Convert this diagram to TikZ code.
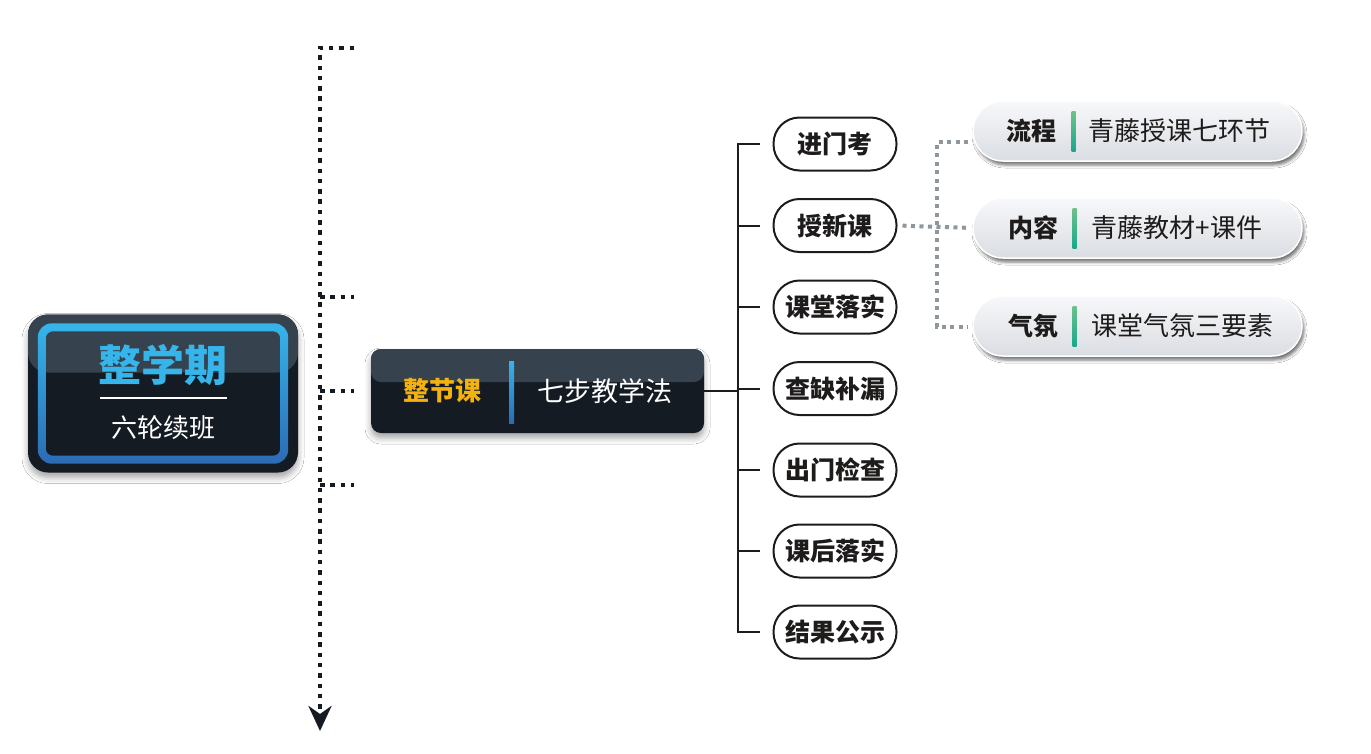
\documentclass[tikz,border=0pt]{standalone}
\usepackage{fontspec}
\setmainfont{Noto Sans CJK SC}
\usetikzlibrary{arrows.meta,shadows.blur}
\definecolor{darkbg}{HTML}{141B23}
\definecolor{topgray}{HTML}{36424D}
\definecolor{skyblue}{HTML}{36B5EA}
\definecolor{deepblue}{HTML}{2C6BB5}
\definecolor{gold}{HTML}{F4B20F}
\definecolor{ink}{HTML}{1E1B1B}
\definecolor{dotgray}{HTML}{8E979C}
\definecolor{mint}{HTML}{6DC28B}
\definecolor{seagreen}{HTML}{17A88C}
\definecolor{boxtop}{HTML}{F7F8FA}
\definecolor{boxbot}{HTML}{DADDE2}
\newcommand\fsz[1]{\fontsize{#1}{#1}\selectfont}
\begin{document}
\begin{tikzpicture}[x=1pt,y=-1pt,
    darkbox/.style={fill=darkbg,inner sep=0pt,
      blur shadow={shadow xshift=0pt,shadow yshift=-5pt,shadow blur radius=6pt,shadow opacity=35},
      path picture={\fill[topgray] (path picture bounding box.north west) rectangle ([yshift=-#1]path picture bounding box.north east);}},
    txt/.style={inner sep=0pt},
    pill/.style={draw=ink,line width=2pt,fill=white,rounded corners=26pt,minimum width=123pt,
      minimum height=53pt,inner sep=0pt,text=ink,font=\bfseries\fsz{25}},
    infobox/.style={rounded corners=30pt,minimum width=329pt,minimum height=60pt,
      top color=boxtop,bottom color=boxbot,draw=white,line width=1.5pt,
      blur shadow={shadow xshift=2pt,shadow yshift=-4pt,shadow blur radius=3pt,shadow opacity=55}},
    tree/.style={draw=ink,line width=2pt},
    mainline/.style={draw=darkbg,line width=4pt,dash pattern=on 4.5pt off 5.8pt},
    grayline/.style={draw=dotgray,line width=4pt,dash pattern=on 4pt off 4.5pt}]
  \fill[white] (0,0) rectangle (1371,753);
  \useasboundingbox (0,0) rectangle (1371,753);

  \node[darkbox=58pt,rounded corners=20pt,minimum width=270pt,minimum height=158pt] (term) at (163,393.5) {};
  \shade[top color=skyblue,bottom color=deepblue,even odd rule,rounded corners=14pt]
    ([shift={(10pt,-9pt)}]term.north west) rectangle ([shift={(-10pt,9pt)}]term.south east)
    [rounded corners=7pt]
    ([shift={(18pt,-17pt)}]term.north west) rectangle ([shift={(-18pt,17pt)}]term.south east);
  \node[txt,font=\bfseries\fsz{43},text=skyblue] (title) at (163,365) {整学期};
  \draw[white,line width=2pt] (100,398) -- (227,398);
  \node[txt,font=\fsz{26},text=white] (sub) at (163,428) {六轮续班};

  \coordinate (top) at (320,48);
  \coordinate (tip) at (320,731);
  \coordinate (b1) at (354,48);
  \coordinate (b2) at (354,297);
  \coordinate (b3) at (354,391);
  \coordinate (b4) at (354,485);
  \draw[mainline,-{Stealth[length=25pt,width=23pt,inset=8pt]}] (b1) -- (top) -- (tip);
  \draw[mainline] (top |- b2) -- (b2);
  \draw[mainline] (top |- b3) -- (b3);
  \draw[mainline] (top |- b4) -- (b4);

  \node[darkbox=33pt,rounded corners=10pt,minimum width=333pt,minimum height=84pt] (lesson) at (537.5,391) {};
  \shade[top color=skyblue,bottom color=deepblue] (509,361) rectangle (514,423);
  \node[txt,font=\bfseries\fsz{26},text=gold] (lessona) at (442,391) {整节课};
  \node[txt,font=\fsz{27},text=white] (lessonb) at (605,391) {七步教学法};

  \coordinate (sp) at (738,391);
  \node[pill] (p1) at (835,144) {进门考};
  \node[pill] (p2) at (835,225.5) {授新课};
  \node[pill] (p3) at (835,307) {课堂落实};
  \node[pill] (p4) at (835,388.5) {查缺补漏};
  \node[pill] (p5) at (835,470) {出门检查};
  \node[pill] (p6) at (835,551) {课后落实};
  \node[pill] (p7) at (835,632) {结果公示};
  \draw[tree] (lesson.east) -- (sp);
  \draw[tree,line cap=rect] (sp |- p1) -- (sp |- p7);
  \draw[tree,shorten >=13pt] (sp |- p1) -- (p1.west);
  \draw[tree,shorten >=13pt] (sp |- p2) -- (p2.west);
  \draw[tree,shorten >=13pt] (sp |- p3) -- (p3.west);
  \draw[tree,shorten >=13pt] (sp |- p4) -- (p4.west);
  \draw[tree,shorten >=13pt] (sp |- p5) -- (p5.west);
  \draw[tree,shorten >=13pt] (sp |- p6) -- (p6.west);
  \draw[tree,shorten >=13pt] (sp |- p7) -- (p7.west);

  \node[infobox] (r1) at (1137.5,131) {};
  \node[infobox] (r2) at (1137.5,228) {};
  \node[infobox] (r3) at (1137.5,326) {};
  \coordinate (gtop) at (937,142);
  \coordinate (gbot) at (937,327);
  \draw[grayline,shorten <=4pt,shorten >=4pt] (r1.west |- gtop) -- (gtop) -- (gbot) -- (r3.west |- gbot);
  \draw[grayline,shorten <=5pt,shorten >=4pt] (p2.east) -- (r2.west);

  \node[txt,font=\bfseries\fsz{25},text=ink] (r1a) at ([xshift=-106pt]r1.center) {流程};
  \shade[top color=mint,bottom color=seagreen] ([shift={(-66pt,20pt)}]r1.center) rectangle ([shift={(-62pt,-20pt)}]r1.center);
  \node[txt,font=\fsz{26},text=ink,anchor=west] (r1b) at ([xshift=-49pt]r1.center) {青藤授课七环节};
  \node[txt,font=\bfseries\fsz{25},text=ink] (r2a) at ([xshift=-104pt]r2.center) {内容};
  \shade[top color=mint,bottom color=seagreen] ([shift={(-65pt,20pt)}]r2.center) rectangle ([shift={(-61pt,-20pt)}]r2.center);
  \node[txt,font=\fsz{26},text=ink,anchor=west] (r2b) at ([xshift=-46pt]r2.center) {青藤教材+课件};
  \node[txt,font=\bfseries\fsz{25},text=ink] (r3a) at ([xshift=-104pt]r3.center) {气氛};
  \shade[top color=mint,bottom color=seagreen] ([shift={(-65pt,20pt)}]r3.center) rectangle ([shift={(-61pt,-20pt)}]r3.center);
  \node[txt,font=\fsz{26},text=ink,anchor=west] (r3b) at ([xshift=-46pt]r3.center) {课堂气氛三要素};
\end{tikzpicture}
\end{document}
